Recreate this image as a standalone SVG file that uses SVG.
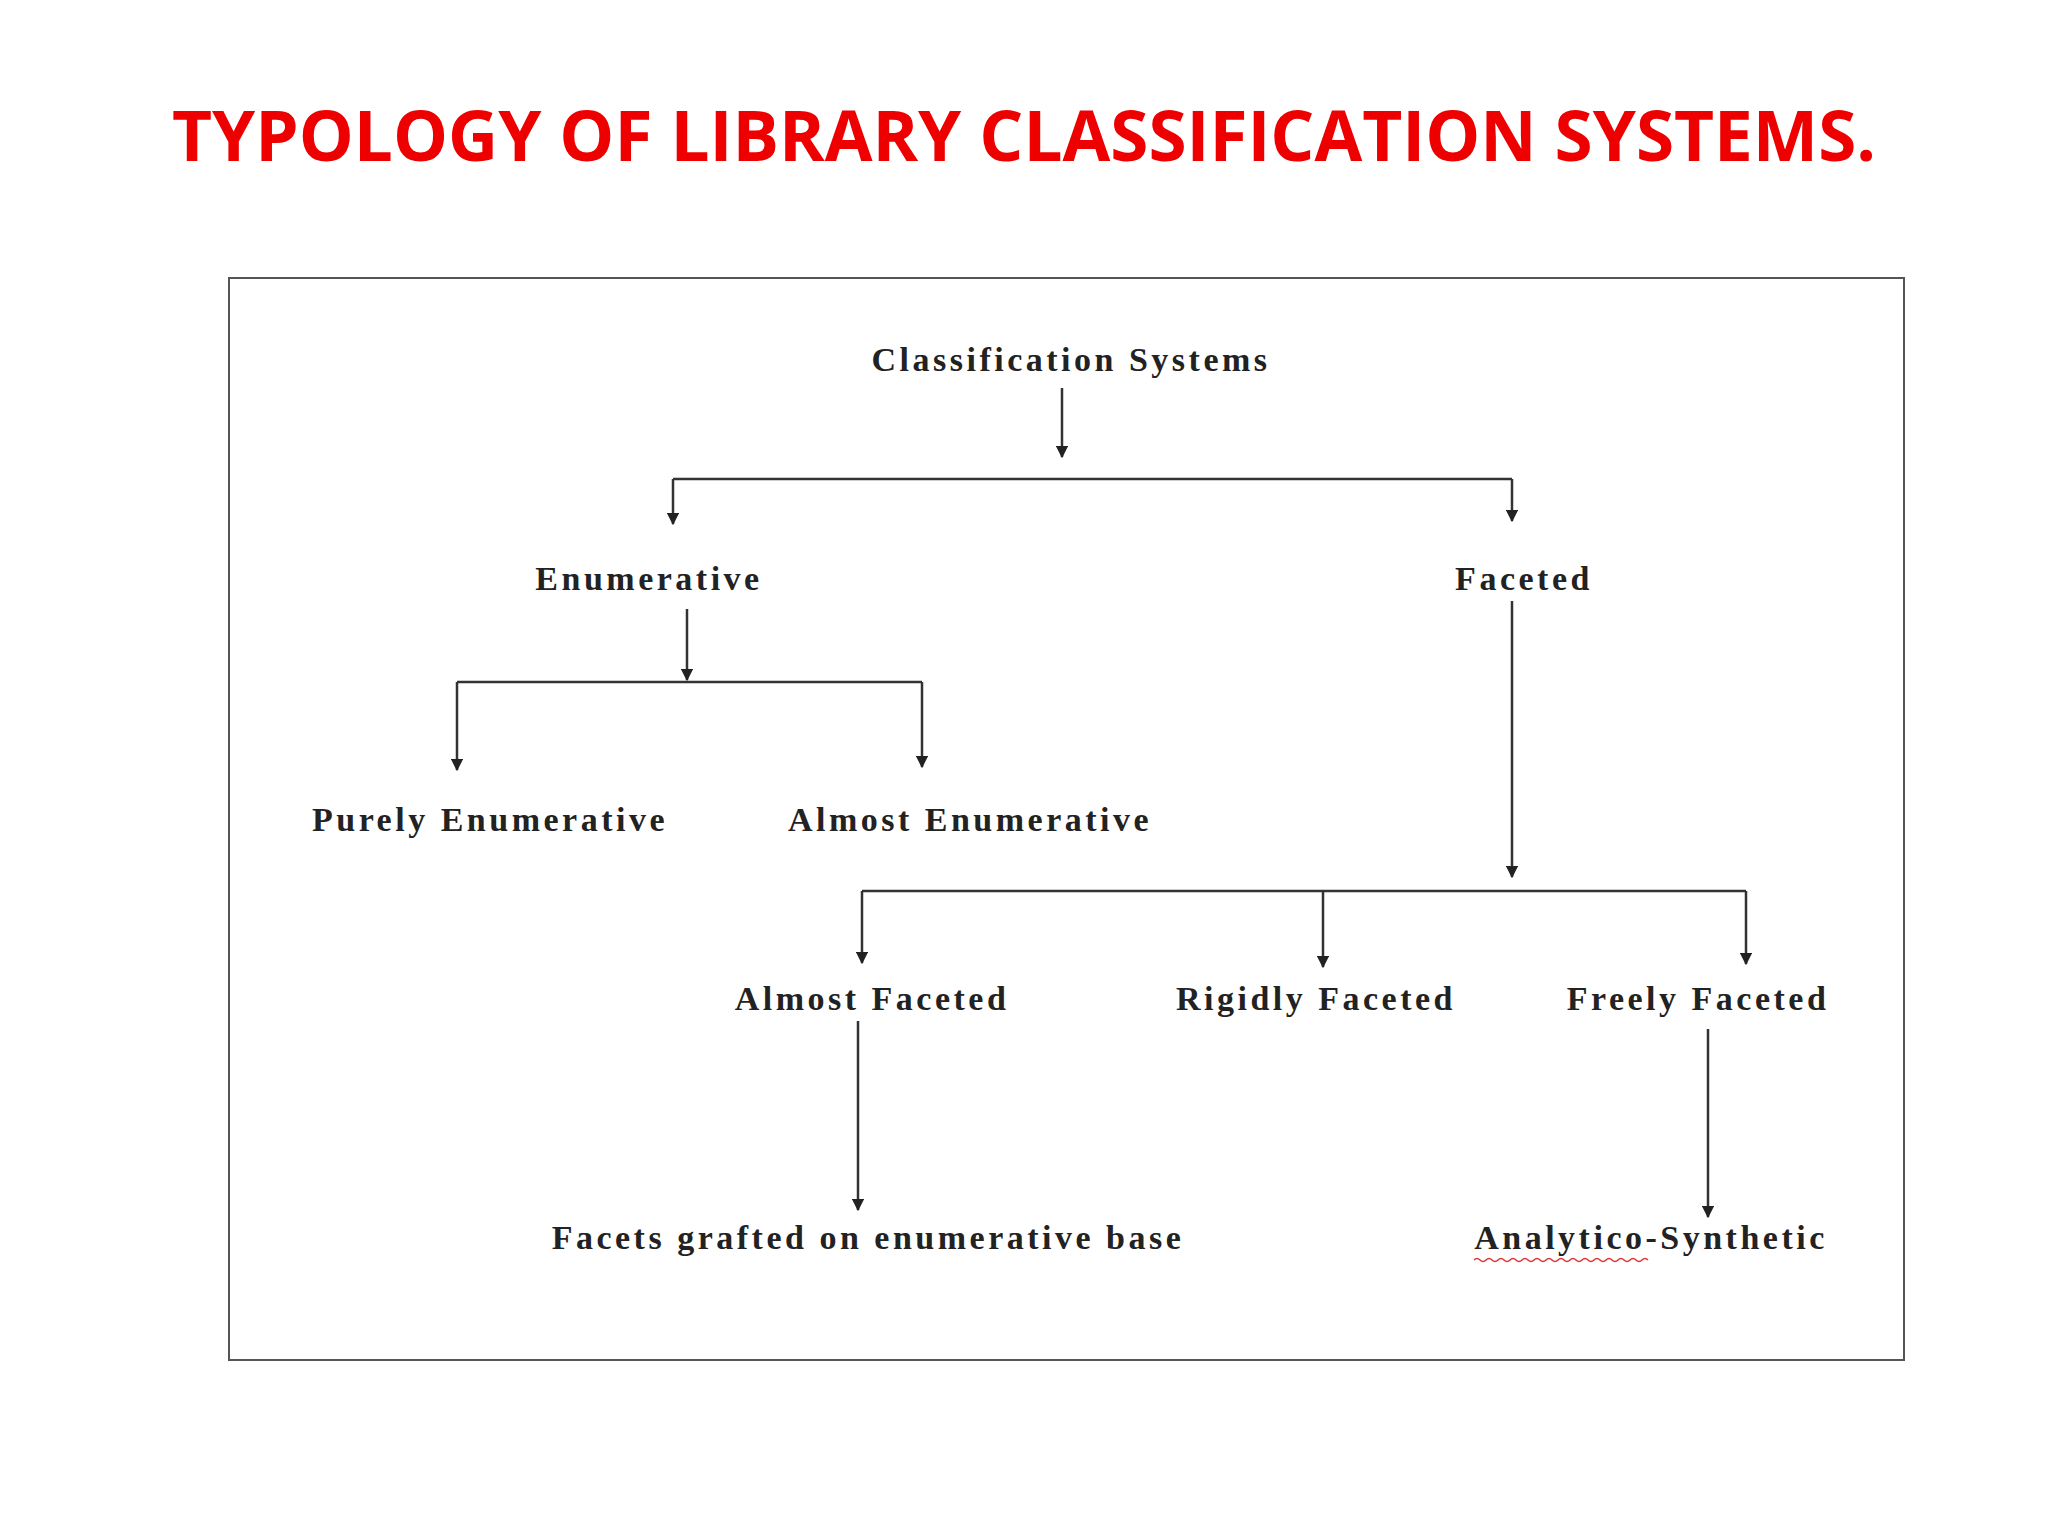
<svg xmlns="http://www.w3.org/2000/svg" width="2048" height="1536" viewBox="0 0 2048 1536">
<defs>
<style>
.t{font-family:"Liberation Serif","Times New Roman",serif;font-weight:bold;font-size:34px;fill:#222;text-anchor:middle;letter-spacing:3.5px}
.c line{stroke:#333;stroke-width:2.5;fill:none}
</style>
<marker id="a" viewBox="0 0 10 10" refX="9" refY="5" markerWidth="5" markerHeight="5" orient="auto"><path d="M0,0L10,5L0,10z" fill="#222"/></marker>
</defs>
<rect width="2048" height="1536" fill="#fff"/>
<text x="1024" y="161" font-family="'Open Sans','Liberation Sans',sans-serif" font-weight="bold" font-size="70" fill="#ee0000" text-anchor="middle" textLength="1704" lengthAdjust="spacingAndGlyphs">TYPOLOGY OF LIBRARY CLASSIFICATION SYSTEMS.</text>
<rect x="229" y="278" width="1675" height="1082" fill="none" stroke="#555" stroke-width="2"/>
<g id="n-root"><text class="t" x="1071" y="371">Classification Systems</text></g>
<g id="n-enum"><text class="t" x="649" y="590">Enumerative</text></g>
<g id="n-facet"><text class="t" x="1524" y="590">Faceted</text></g>
<g id="n-purely"><text class="t" x="490" y="831">Purely Enumerative</text></g>
<g id="n-almostenum"><text class="t" x="970" y="831">Almost Enumerative</text></g>
<g id="n-almostfac"><text class="t" x="872" y="1010">Almost Faceted</text></g>
<g id="n-rigid"><text class="t" x="1316" y="1010">Rigidly Faceted</text></g>
<g id="n-freely"><text class="t" x="1698" y="1010">Freely Faceted</text></g>
<g id="n-grafted"><text class="t" x="868" y="1249">Facets grafted on enumerative base</text></g>
<g id="n-analytico"><text class="t" x="1651" y="1249">Analytico-Synthetic</text>
<path d="M1474,1260 q3,-3 6,0 t6,0 t6,0 t6,0 t6,0 t6,0 t6,0 t6,0 t6,0 t6,0 t6,0 t6,0 t6,0 t6,0 t6,0 t6,0 t6,0 t6,0 t6,0 t6,0 t6,0 t6,0 t6,0 t6,0 t6,0 t6,0 t6,0 t6,0 t6,0" fill="none" stroke="#d33" stroke-width="1.5"/></g>
<g class="c" id="connectors">
<line x1="1062" y1="388" x2="1062" y2="457" marker-end="url(#a)"/>
<line x1="673" y1="479" x2="1512" y2="479"/>
<line x1="673" y1="479" x2="673" y2="524" marker-end="url(#a)"/>
<line x1="1512" y1="479" x2="1512" y2="521" marker-end="url(#a)"/>
<line x1="687" y1="609" x2="687" y2="680" marker-end="url(#a)"/>
<line x1="457" y1="682" x2="922" y2="682"/>
<line x1="457" y1="682" x2="457" y2="770" marker-end="url(#a)"/>
<line x1="922" y1="682" x2="922" y2="767" marker-end="url(#a)"/>
<line x1="1512" y1="601" x2="1512" y2="877" marker-end="url(#a)"/>
<line x1="862" y1="891" x2="1746" y2="891"/>
<line x1="862" y1="891" x2="862" y2="963" marker-end="url(#a)"/>
<line x1="1323" y1="891" x2="1323" y2="967" marker-end="url(#a)"/>
<line x1="1746" y1="891" x2="1746" y2="964" marker-end="url(#a)"/>
<line x1="858" y1="1021" x2="858" y2="1210" marker-end="url(#a)"/>
<line x1="1708" y1="1029" x2="1708" y2="1217" marker-end="url(#a)"/>
</g>
</svg>
